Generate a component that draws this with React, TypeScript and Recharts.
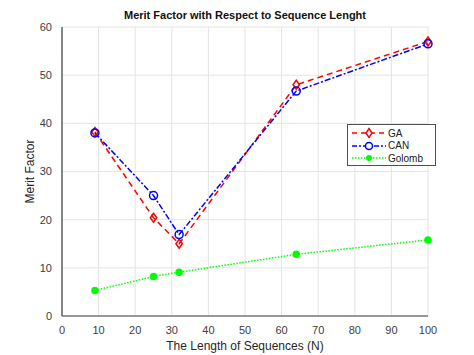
import { LineChart, Line, XAxis, YAxis, CartesianGrid, Legend } from 'recharts'

const lengths = [9, 25, 32, 64, 100]
const gaValues = [38.2, 20.4, 15.0, 48.0, 57.0]
const canValues = [38.0, 25.0, 16.9, 46.7, 56.5]
const golombValues = [5.3, 8.2, 9.1, 12.8, 15.8]
const xTicks = [0, 10, 20, 30, 40, 50, 60, 70, 80, 90, 100]
const yTicks = [0, 10, 20, 30, 40, 50, 60]

const data = lengths.map((n, i) => ({
  n,
  ga: gaValues[i],
  can: canValues[i],
  golomb: golombValues[i],
}))

const FONT = 'Arial, "Liberation Sans", Helvetica, sans-serif'
const tickStyle = { fontSize: 11, fill: '#404040', fontFamily: FONT }

function Diamond({ cx, cy, index }: any) {
  if (cx == null || cy == null) return <g key={index} />
  return (
    <path
      key={index}
      d={`M${cx},${cy - 4.5} L${cx + 3.2},${cy} L${cx},${cy + 4.5} L${cx - 3.2},${cy} Z`}
      fill="none"
      stroke="#ff0000"
      strokeWidth={1.5}
    />
  )
}

function LegendBox() {
  const rows = [
    { name: 'GA', color: '#ff0000', dash: '5 4', marker: 'diamond' },
    { name: 'CAN', color: '#0000ff', dash: '5 2 2 2', marker: 'circle' },
    { name: 'Golomb', color: '#00ff00', dash: '1.5 1.5', marker: 'dot' },
  ]
  return (
    <div
      style={{
        position: 'absolute',
        left: 347,
        top: 124,
        width: 89,
        height: 42,
        background: '#fff',
        border: '1px solid #505050',
        fontFamily: FONT,
        fontSize: 10,
        color: '#202020',
        boxSizing: 'border-box',
      }}
    >
      {rows.map((r, i) => (
        <div key={r.name} style={{ position: 'absolute', left: 3, top: 2 + i * 12.5, height: 12, display: 'flex', alignItems: 'center' }}>
          <svg width={36} height={12}>
            <line x1={1} y1={6} x2={35} y2={6} stroke={r.color} strokeWidth={1.5} strokeDasharray={r.dash} />
            {r.marker === 'diamond' && (
              <path d="M18,1.5 L21,6 L18,10.5 L15,6 Z" fill="#fff" stroke={r.color} strokeWidth={1.5} />
            )}
            {r.marker === 'circle' && <circle cx={18} cy={6} r={3.5} fill="#fff" stroke={r.color} strokeWidth={1.5} />}
            {r.marker === 'dot' && <circle cx={18} cy={6} r={3} fill={r.color} />}
          </svg>
          <span style={{ marginLeft: 1 }}>{r.name}</span>
        </div>
      ))}
    </div>
  )
}

export default function App() {
  return (
    <div style={{ position: 'absolute', left: 0, top: 0, width: 474, height: 355, background: '#fff' }}>
      <div
        style={{
          position: 'absolute',
          left: 62,
          width: 366,
          top: 9,
          textAlign: 'center',
          fontFamily: FONT,
          fontWeight: 'bold',
          fontSize: 11,
          color: '#111',
        }}
      >
        Merit Factor with Respect to Sequence Lenght
      </div>
      <LineChart width={474} height={355} data={data} margin={{ top: 27, right: 46, bottom: 0, left: 0 }}>
        <CartesianGrid stroke="#e4e4e4" strokeWidth={1} vertical horizontal />
        <XAxis
          dataKey="n"
          type="number"
          domain={[0, 100]}
          ticks={xTicks}
          interval={0}
          tick={tickStyle}
          tickLine={false}
          axisLine={{ stroke: '#404040', strokeWidth: 1.2 }}
          height={39}
          tickMargin={4}
          label={{ value: 'The Length of Sequences (N)', position: 'insideBottom', offset: 5, style: { fontSize: 12, fill: '#262626', fontFamily: FONT } }}
        />
        <YAxis
          type="number"
          domain={[0, 60]}
          ticks={yTicks}
          interval={0}
          tick={tickStyle}
          tickLine={false}
          axisLine={{ stroke: '#404040', strokeWidth: 1.2 }}
          width={62}
          tickMargin={4}
          label={{ value: 'Merit Factor', angle: -90, position: 'insideLeft', offset: 30, style: { fontSize: 12, fill: '#262626', fontFamily: FONT, textAnchor: 'middle' } }}
        />
        <Line
          dataKey="golomb"
          stroke="#00ff00"
          strokeWidth={1.5}
          strokeDasharray="1.5 1.5"
          dot={{ r: 3, fill: '#00ff00', stroke: '#00ff00', strokeDasharray: '' }}
          isAnimationActive={false}
        />
        <Line
          dataKey="ga"
          stroke="#ff0000"
          strokeWidth={1.5}
          strokeDasharray="6 4"
          dot={<Diamond />}
          isAnimationActive={false}
        />
        <Line
          dataKey="can"
          stroke="#0000ff"
          strokeWidth={1.5}
          strokeDasharray="6 2 2 2"
          dot={{ r: 4, fill: 'none', stroke: '#0000ff', strokeWidth: 1.5, strokeDasharray: '' }}
          isAnimationActive={false}
        />
        <Legend content={() => null} />
      </LineChart>
      <LegendBox />
    </div>
  )
}
